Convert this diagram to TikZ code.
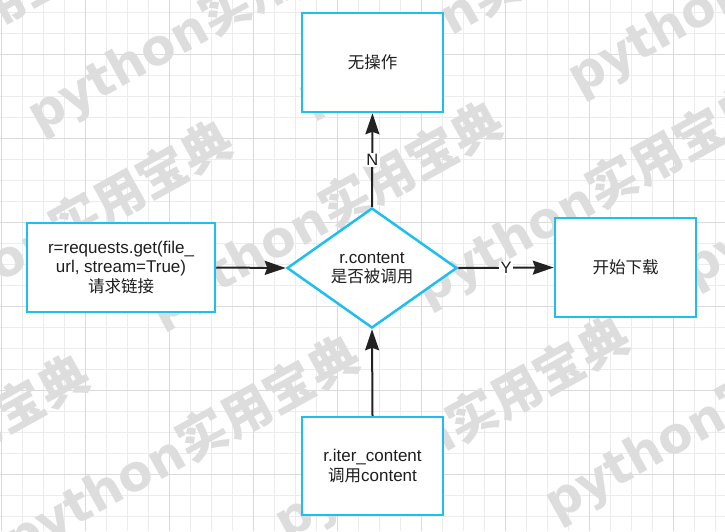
\documentclass[tikz,border=0pt]{standalone}
\usepackage{fontspec}
\setmainfont{Liberation Sans}
\newfontfamily\cjk{Noto Sans CJK SC}
\newfontfamily\wmlatin{DejaVu Sans}
\newfontfamily\wmcjk{Noto Sans CJK SC}
\usetikzlibrary{shapes.geometric,arrows.meta}
\definecolor{cblue}{RGB}{30,190,240}
\definecolor{tc}{RGB}{30,30,30}
\definecolor{ac}{RGB}{34,34,34}
\definecolor{wmc}{RGB}{221,221,221}
\definecolor{gminc}{RGB}{236,236,236}
\definecolor{gmajc}{RGB}{218,218,218}
\newcommand\zh[1]{{\cjk\fontsize{16.5}{19.5}\selectfont #1}}
\tikzset{
  box/.style={draw=cblue, line width=2.5pt, fill=white, align=center, inner sep=0pt, text=tc, font=\fontsize{17}{19.5}\selectfont},
  decision/.style={box, shape=diamond, aspect=1.417, minimum width=170pt, minimum height=120pt},
  arr/.style={draw=ac, line width=2pt, -{Stealth[length=21pt,width=14pt,inset=2.5pt]}},
  lbl/.style={fill=white, inner sep=1.5pt, text=tc, font=\fontsize{16.5}{18}\selectfont},
  wmtext/.style={text=wmc, inner sep=0pt, rotate=29, font=\fontsize{50}{50}\selectfont},
  gmin/.style={draw=gminc, line width=0.8pt},
  gmaj/.style={draw=gmajc, line width=0.8pt},
}
\begin{document}
\begin{tikzpicture}[x=1pt,y=-1pt]
\useasboundingbox (0,0) rectangle (725,531);
\fill[white] (0,0) rectangle (725,531);
% grid
\foreach \k in {0,...,34} {\pgfmathsetmacro\gx{1.3+21*\k} \draw[gmin] (\gx,0) -- (\gx,531);}
\foreach \k in {0,...,24} {\pgfmathsetmacro\gy{12.3+21*\k} \draw[gmin] (0,\gy) -- (725,\gy);}
\foreach \k in {0,...,8} {\pgfmathsetmacro\gx{1.3+84*\k} \draw[gmaj] (\gx,0) -- (\gx,531);}
\foreach \k in {0,...,5} {\pgfmathsetmacro\gy{54.3+84*\k} \draw[gmaj] (0,\gy) -- (725,\gy);}
% watermark
\begin{scope}
\clip (0,0) rectangle (725,531);
\foreach \sx/\sy [count=\n] in {-45/28, 225/9, 495/-10, 765/-29, 75/220, 345/201, 612/182, 880/163, -68/454, 202/435, 472/416, 742/397} {
  \node[wmtext, anchor=base east] (wmL\n) at (\sx-12.7,\sy+28.7) {\wmlatin\bfseries python};
  \node[wmtext, anchor=base west] (wmR\n) at (\sx-12.7,\sy+28.7) {\wmcjk\bfseries 实用宝典};
}
\end{scope}
% nodes
\node[box, minimum width=188pt, minimum height=89pt] (req) at (121,267.5) {r=requests.get(file\_\\url, stream=True)\\\zh{请求链接}};
\node[decision] (dec) at (372,268) {r.content\\\zh{是否被调用}};
\node[box, minimum width=141pt, minimum height=99pt] (none) at (372.5,62.5) {\zh{无操作}};
\node[box, minimum width=141pt, minimum height=99pt] (dl) at (625.5,267.5) {\zh{开始下载}};
\node[box, minimum width=141pt, minimum height=98pt] (iter) at (372.5,466) {r.iter\_content\\\zh{调用}content};
% connectors
\draw[arr] (req.east) -- (dec.west);
\draw[arr] (dec.east) -- node[lbl] (ylab) {Y} (dl.west);
\draw[arr] (dec.north) -- node[lbl] (nlab) {N} (none.south);
\draw[arr] (iter.north) -- (dec.south);
\end{tikzpicture}
\end{document}
